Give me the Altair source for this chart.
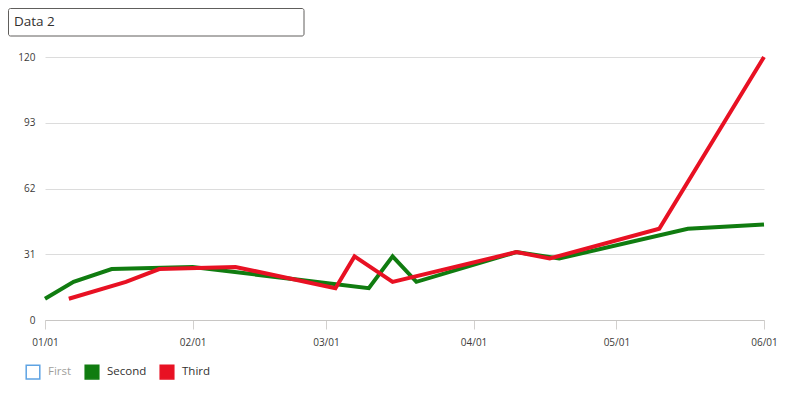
import altair as alt
import pandas as pd

# ---- data ----
series_names = ["First", "Second", "Third"]
series_colors = ["#5ea3e3", "#107c10", "#e81123"]

second_dates = ["2021-01-01", "2021-01-07", "2021-01-15", "2021-02-01", "2021-03-10",
                "2021-03-15", "2021-03-20", "2021-04-10", "2021-04-19", "2021-05-16",
                "2021-06-01"]
second_values = [10, 18, 24, 25, 15, 30, 18, 32, 29, 43, 45]

third_dates = ["2021-01-06", "2021-01-18", "2021-01-25", "2021-02-10", "2021-03-03",
               "2021-03-07", "2021-03-15", "2021-04-10", "2021-04-17", "2021-05-10",
               "2021-06-01"]
third_values = [10, 18, 24, 25, 15, 30, 18, 32, 29, 43, 124]

y_ticks = [0, 31, 62, 93, 124]
x_tick_months = [1, 2, 3, 4, 5, 6]
title_text = "Data 2"

font = "Open Sans"

second_df = pd.DataFrame({"date": second_dates, "value": second_values, "series": "Second"})
third_df = pd.DataFrame({"date": third_dates, "value": third_values, "series": "Third"})

x_enc = alt.X(
    "date:T",
    title=None,
    scale=alt.Scale(
        type="utc",
        domain=[alt.DateTime(year=2021, month=1, date=1, utc=True),
                alt.DateTime(year=2021, month=6, date=1, utc=True)],
        nice=False,
    ),
    axis=alt.Axis(
        values=[alt.DateTime(year=2021, month=m, date=1, utc=True) for m in x_tick_months],
        labelExpr="utcFormat(datum.value, '%m/%d')",
        grid=False,
        domainColor="#c8c6c4",
        tickColor="#d2d0ce",
        tickSize=9,
        labelPadding=8,
        labelFontSize=10,
        labelColor="#3b3a39",
        labelFlush=False,
        labelFont=font,
    ),
)

y_enc = alt.Y(
    "value:Q",
    title=None,
    scale=alt.Scale(domain=[0, 124], nice=False, zero=True),
    axis=alt.Axis(
        values=y_ticks,
        format=".2~s",
        domain=False,
        ticks=False,
        grid=True,
        gridColor="#dcdcdc",
        labelPadding=10,
        labelFontSize=10,
        labelColor="#3b3a39",
        labelFont=font,
    ),
)

hidden = series_names[0]
color_enc = alt.Color(
    "series:N",
    scale=alt.Scale(domain=series_names, range=series_colors),
    legend=alt.Legend(
        title=None,
        orient="none",
        legendX=-20,
        legendY=307,
        direction="horizontal",
        symbolType="square",
        symbolSize=185,
        symbolStrokeWidth=1.5,
        symbolFillColor={"expr": f"datum.value === '{hidden}' ? 'transparent' : scale('color', datum.value)"},
        labelColor={"expr": f"datum.value === '{hidden}' ? '#a19f9d' : '#323130'"},
        labelFontSize=11.5,
        labelFont=font,
        labelOffset=7,
        columnPadding=10,
        padding=0,
    ),
)

green = alt.Chart(second_df).mark_line(strokeWidth=4).encode(x=x_enc, y=y_enc, color=color_enc)
red = alt.Chart(third_df).mark_line(strokeWidth=4).encode(x=x_enc, y=y_enc, color=color_enc)

title_df = pd.DataFrame({"label": [title_text]})
box = alt.Chart(title_df).mark_rect(
    fill="white", stroke="#605e5c", strokeWidth=1, cornerRadius=2
).encode(
    x=alt.value(-36.5), x2=alt.value(259), y=alt.value(-48.5), y2=alt.value(-21)
)
box_text = alt.Chart(title_df).mark_text(
    align="left", baseline="middle", fontSize=13.5, font=font, color="#323130"
).encode(
    text="label:N", x=alt.value(-31), y=alt.value(-35)
)

chart = alt.layer(box, box_text, green, red).properties(
    width=719,
    height=263,
    autosize=alt.AutoSizeParams(type="none"),
    padding={"left": 37, "top": 49, "right": 14, "bottom": 70},
    background="white",
).configure_view(stroke=None)

chart.save("out.html", embed_options={"renderer": "svg", "actions": False})
